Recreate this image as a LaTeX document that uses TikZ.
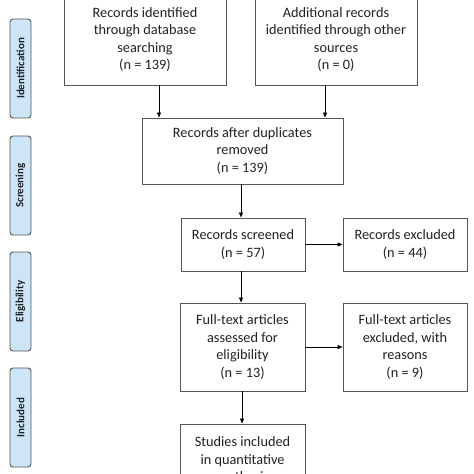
\documentclass[tikz,border=0pt]{standalone}
\usepackage{fontspec}
\setmainfont{Carlito}
\usetikzlibrary{arrows.meta,calc}
\definecolor{boxline}{HTML}{555555}
\definecolor{txt}{HTML}{222222}
\definecolor{sidefill}{HTML}{CDE6F7}
\begin{document}
\begin{tikzpicture}[x=1pt,y=-1pt,
  box/.style={draw=boxline,line width=0.9pt,fill=white,align=center,text=txt,
    font=\fontsize{14.3}{17.6}\selectfont,inner sep=0pt},
  side/.style={draw=boxline,line width=0.9pt,fill=sidefill,rounded corners=3pt,
    minimum width=21pt,minimum height=99pt,inner sep=0pt},
  sidetxt/.style={rotate=90,font=\fontsize{11}{12}\selectfont\bfseries,text=txt},
  arr/.style={-{Triangle[length=5pt,width=4pt]},line width=0.8pt,draw=black}]
\clip (0,0) rectangle (474,474);
\fill[white] (0,0) rectangle (474,474);
% side labels
\node[side] (s1) at (20.5,68.5) {};
\node[sidetxt] (t1) at (s1.center) {Identification};
\node[side] (s2) at (20.5,185.5) {};
\node[sidetxt] (t2) at (s2.center) {Screening};
\node[side] (s3) at (20.5,301.5) {};
\node[sidetxt] (t3) at (s3.center) {Eligibility};
\node[side] (s4) at (20.5,417.5) {};
\node[sidetxt] (t4) at (s4.center) {Included};
% boxes
\node[box,minimum width=162pt,minimum height=91pt] (b1) at (145,39.5)
  {Records identified\\through database\\searching\\(n = 139)};
\node[box,minimum width=162pt,minimum height=91pt] (b2) at (336,39.5)
  {Additional records\\identified through other\\sources\\(n = 0)};
\node[box,minimum width=201pt,minimum height=66pt] (b3) at (242.5,151)
  {Records after duplicates\\removed\\(n = 139)};
\node[box,minimum width=124pt,minimum height=53pt] (b4) at (243,244.5)
  {Records screened\\(n = 57)};
\node[box,minimum width=124pt,minimum height=53pt] (b5) at (405,244.5)
  {Records excluded\\(n = 44)};
\node[box,minimum width=125pt,minimum height=88pt] (b6) at (242.5,347)
  {Full-text articles\\assessed for\\eligibility\\(n = 13)};
\node[box,minimum width=124pt,minimum height=88pt] (b7) at (405,347)
  {Full-text articles\\excluded, with\\reasons\\(n = 9)};
\node[box,minimum width=125pt,minimum height=88pt] (b8) at (242.5,468)
  {Studies included\\in quantitative\\synthesis\\\mbox{}};
% arrows
\draw[arr] ([xshift=14pt]b1.south) -- ([xshift=-83.5pt]b3.north);
\draw[arr] ([xshift=-11pt]b2.south) -- ([xshift=82.5pt]b3.north);
\draw[arr] ([xshift=-1.5pt]b3.south) -- ([xshift=-2pt]b4.north);
\draw[arr] (b4.east) -- (b4.east -| b5.west);
\draw[arr] ([xshift=-2pt]b4.south) -- ([xshift=-1.5pt]b6.north);
\draw[arr] (b6.east) -- (b6.east -| b7.west);
\draw[arr] ([xshift=-0.5pt]b6.south) -- ([xshift=-0.5pt]b8.north);
\end{tikzpicture}
\end{document}
